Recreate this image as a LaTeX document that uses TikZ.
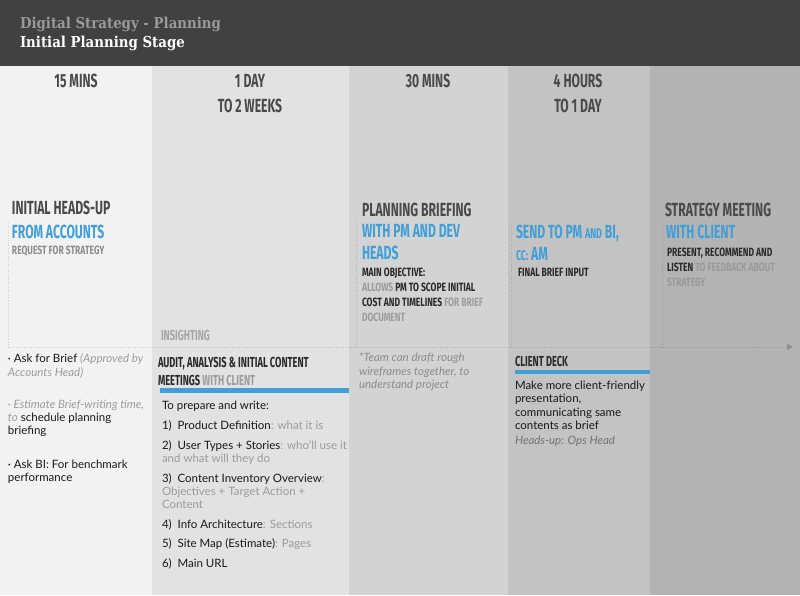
\documentclass[tikz,border=0pt]{standalone}
\usepackage{fontspec}
\usetikzlibrary{arrows.meta}
\setmainfont{Lato}
\newfontfamily\bebas{Fira Sans}[FakeStretch=0.64]
\newfontfamily\bebassm{Fira Sans}[FakeStretch=0.71]
\newfontfamily\slab{DejaVu Serif}[FakeStretch=0.89]
\definecolor{hdbg}{HTML}{414141}
\definecolor{hdsub}{HTML}{9A9A9A}
\definecolor{cA}{HTML}{F2F2F2}
\definecolor{cB}{HTML}{E2E2E2}
\definecolor{cC}{HTML}{D3D3D3}
\definecolor{cD}{HTML}{C3C3C3}
\definecolor{cE}{HTML}{B3B3B3}
\definecolor{headgray}{HTML}{4A4A4A}
\definecolor{blu}{HTML}{3F9FD8}
\definecolor{midgray}{HTML}{8C8C8C}
\definecolor{ltgray}{HTML}{9C9C9C}
\definecolor{dk}{HTML}{2A2A2A}
\definecolor{fivegray}{HTML}{9A9A9A}
\newcommand\hdfont{\bebas\bfseries\fontsize{19}{19}\selectfont}
\newcommand\midfont{\bebas\bfseries\fontsize{14.5}{14.5}\selectfont}
\newcommand\smfont{\bebassm\bfseries\fontsize{12}{12}\selectfont}
\newcommand\bodyfont{\fontsize{11.5}{13}\selectfont}
\tikzset{
  txt/.style={anchor=base west, inner sep=0pt, outer sep=0pt},
  colhead/.style={anchor=base, inner sep=0pt, font=\hdfont, text=headgray},
  bighead/.style={txt, font=\hdfont, text=headgray},
  bluehead/.style={txt, font=\hdfont, text=blu},
  smallcap/.style={txt, font=\smfont, text=dk},
  midcap/.style={txt, font=\midfont, text=dk},
  body/.style={txt, font=\bodyfont, text=black!90},
  guide/.style={draw=black, draw opacity=0.13, dotted, line width=0.6pt},
  bar/.style={fill=blu, draw=none}
}
\begin{document}
\begin{tikzpicture}[x=1pt,y=-1pt]
\useasboundingbox (0,0) rectangle (800,595);
% backgrounds
\fill[cA] (0,66) rectangle (152,595);
\fill[cB] (152,66) rectangle (349,595);
\fill[cC] (349,66) rectangle (508,595);
\fill[cD] (508,66) rectangle (650,595);
\fill[cE] (650,66) rectangle (800,595);
\fill[hdbg] (0,0) rectangle (800,66);
% header
\node[txt, font=\slab\bfseries\fontsize{15}{15}\selectfont, text=hdsub] (t1) at (20,28.5) {Digital Strategy - Planning};
\node[txt, font=\slab\bfseries\fontsize{15}{15}\selectfont, text=white] (t2) at (20,47) {Initial Planning Stage};
% column time headings
\node[colhead] (h1) at (76,87) {15 MINS};
\node[colhead] (h2a) at (250,87) {1 DAY};
\node[colhead] (h2b) at (250,112) {TO 2 WEEKS};
\node[colhead] (h3) at (428,87) {30 MINS};
\node[colhead] (h4a) at (578,87) {4 HOURS};
\node[colhead] (h4b) at (578,112) {TO 1 DAY};
% guides
\coordinate (gL) at (8,347);
\coordinate (gR) at (793,347);
\draw[guide] (gL) -- (788,347);
\fill[black!45] (787,344) -- (gR) -- (787,350) -- cycle;
\coordinate (v1t) at (8,222);
\coordinate (v3t) at (356,222);
\coordinate (v4t) at (511,222);
\coordinate (v5t) at (662,222);
\draw[guide] (v1t) -- (8,347);
\draw[guide] (v3t) -- (356,347);
\draw[guide] (v4t) -- (511,347);
\draw[guide] (v5t) -- (662,347);
% column 1
\node[bighead] (c1a) at (12,214) {INITIAL HEADS-UP};
\node[bluehead] (c1b) at (12,238) {FROM ACCOUNTS};
\node[smallcap, text=midgray] (c1c) at (12,254) {REQUEST FOR STRATEGY};
\node[body] (l1a) at (8,362.5) {· Ask for Brief \textcolor{ltgray}{\itshape (Approved by}};
\node[body, text=ltgray] (l1b) at (8,376) {\itshape Accounts Head)};
\node[body] (l1c) at (8,408.5) {\textcolor{ltgray}{\itshape · Estimate Brief-writing time,}};
\node[body] (l1d) at (8,421.5) {\textcolor{ltgray}{\itshape to} schedule planning};
\node[body] (l1e) at (8,434.5) {briefing};
\node[body] (l1f) at (8,468.5) {· Ask BI: For benchmark};
\node[body] (l1g) at (8,481.5) {performance};
% column 2
\node[midcap, text=ltgray!90] (ins) at (161,340.5) {INSIGHTING};
\node[midcap] (aud1) at (158,367) {AUDIT, ANALYSIS \& INITIAL CONTENT};
\node[midcap] (aud2) at (158,385) {MEETINGS \textcolor{ltgray}{WITH CLIENT}};
\fill[bar] (160,388) rectangle (349,392.5);
\node[body] (p0) at (162,409.5) {To prepare and write:};
\node[body] (p1) at (162,429.5) {1)\ \ Product Definition\textcolor{ltgray}{: what it is}};
\node[body] (p2) at (162,449) {2)\ \ User Types + Stories\textcolor{ltgray}{: who'll use it}};
\node[body, text=ltgray] (p2b) at (162,462.5) {and what will they do};
\node[body] (p3) at (162,482) {3)\ \ Content Inventory Overview\textcolor{ltgray}{:}};
\node[body, text=ltgray] (p3b) at (162,495.5) {Objectives + Target Action +};
\node[body, text=ltgray] (p3c) at (162,508.5) {Content};
\node[body] (p4) at (162,528) {4)\ \ Info Architecture\textcolor{ltgray}{: Sections}};
\node[body] (p5) at (162,547.5) {5)\ \ Site Map (Estimate)\textcolor{ltgray}{: Pages}};
\node[body] (p6) at (162,567) {6)\ \ Main URL};
% column 3
\node[bighead] (c3a) at (362,216.5) {PLANNING BRIEFING};
\node[bluehead] (c3b) at (362,237.5) {WITH PM AND DEV};
\node[bluehead] (c3c) at (362,259) {HEADS};
\node[smallcap] (c3d) at (362,276) {MAIN OBJECTIVE:};
\node[smallcap] (c3e) at (362,291.5) {\textcolor{ltgray}{ALLOWS} PM TO SCOPE INITIAL};
\node[smallcap] (c3f) at (362,306.5) {COST AND TIMELINES \textcolor{ltgray}{FOR BRIEF}};
\node[smallcap, text=ltgray] (c3g) at (362,321) {DOCUMENT};
\node[body, text=midgray] (n3a) at (359,361.5) {\itshape *Team can draft rough};
\node[body, text=midgray] (n3b) at (359,375) {\itshape wireframes together, to};
\node[body, text=midgray] (n3c) at (359,388.5) {\itshape understand project};
% column 4
\node[bluehead] (c4a) at (516,238) {SEND TO PM {\fontsize{14}{14}\selectfont AND} BI,};
\node[bluehead] (c4b) at (516,260.5) {{\fontsize{14}{14}\selectfont CC:} AM};
\node[smallcap] (c4c) at (518,276.5) {FINAL BRIEF INPUT};
\node[midcap] (cd) at (515,366.7) {CLIENT DECK};
\fill[bar] (515,369.5) rectangle (650,374);
\node[body] (d1) at (515,389) {Make more client-friendly};
\node[body] (d2) at (515,402.5) {presentation,};
\node[body] (d3) at (515,416) {communicating same};
\node[body] (d4) at (515,429.5) {contents as brief};
\node[body, text=black!55] (d5) at (515,444.5) {\itshape Heads-up: Ops Head};
% column 5
\node[bighead] (c5a) at (665,216.5) {STRATEGY MEETING};
\node[bluehead] (c5b) at (666,238) {WITH CLIENT};
\node[smallcap] (c5c) at (667,256.5) {PRESENT, RECOMMEND AND};
\node[smallcap] (c5d) at (667,271.5) {LISTEN \textcolor{fivegray}{TO FEEDBACK ABOUT}};
\node[smallcap, text=fivegray] (c5e) at (667,286.5) {STRATEGY};
\end{tikzpicture}
\end{document}
